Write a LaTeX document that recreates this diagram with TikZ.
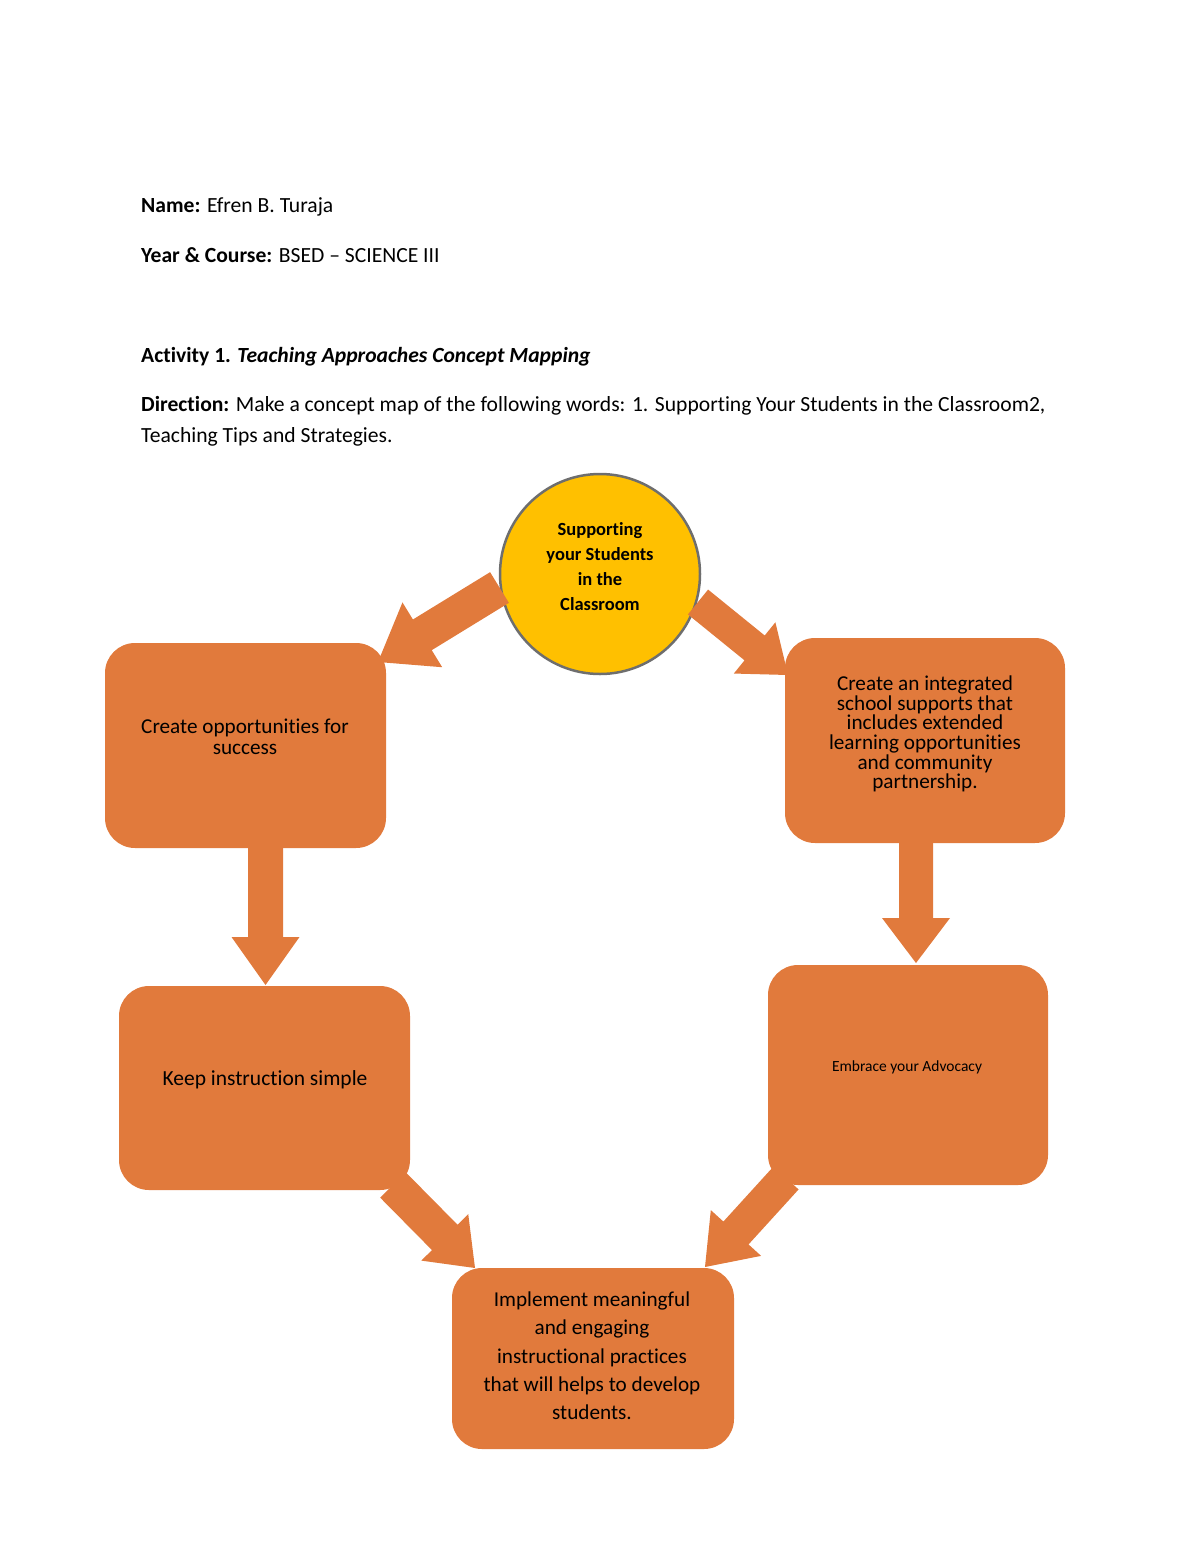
\documentclass[tikz,border=0pt]{standalone}
\usepackage{fontspec}
\setmainfont[Ligatures={NoCommon}]{Carlito}
\usetikzlibrary{calc}
\definecolor{boxorange}{RGB}{225,122,60}
\definecolor{circyellow}{RGB}{255,192,0}
\definecolor{circgray}{RGB}{110,110,110}
\tikzset{
  box/.style={draw=none, fill=boxorange, rounded corners=30pt, inner sep=0pt},
  boxtext/.style={align=center, text=black, inner sep=0pt},
  hdr/.style={anchor=base west, inner sep=0pt, font=\fontsize{21.6}{25}\selectfont},
  arrowfill/.style={fill=boxorange, draw=none}
}
% #1 start, #2 tip, #3 half shaft width, #4 half head width, #5 head length
\newcommand\blockarr[5]{%
  \coordinate (neck) at ($(#2)!#5pt!(#1)$);
  \fill[arrowfill] ($(#1)!#3pt!90:(#2)$) -- ($(neck)!#3pt!90:(#2)$) -- ($(neck)!#4pt!90:(#2)$) -- (#2)
    -- ($(neck)!#4pt!-90:(#2)$) -- ($(neck)!#3pt!-90:(#2)$) -- ($(#1)!#3pt!-90:(#2)$) -- cycle;}
\begin{document}
\begin{tikzpicture}[x=1pt,y=-1pt]
\useasboundingbox (0,0) rectangle (1200,1553);
% header
\node[hdr] (name) at (141,212) {\textbf{Name:} Efren B. Turaja};
\node[hdr] (year) at (141,262) {\textbf{Year \& Course:} BSED – SCIENCE III};
\node[hdr] (act) at (141,362) {\textbf{Activity 1.} \textbf{\textit{Teaching Approaches Concept Mapping}}};
\node[hdr] (dir) at (141,411) {\textbf{Direction:} Make a concept map of the following words: 1. Supporting Your Students in the Classroom2,};
\node[hdr] (dir2) at (141,442) {Teaching Tips and Strategies.};
% central circle
\node[circle, draw=circgray, line width=2.5pt, fill=circyellow, minimum size=200pt, inner sep=0pt] (circ) at (600,574) {};
\node[boxtext, font=\bfseries\fontsize{18.5}{25}\selectfont] (circt) at (600,567) {Supporting\\your Students\\in the\\Classroom};
% boxes
\node[box, minimum width=281pt, minimum height=205pt] (b1) at (245.5,745.5) {};
\node[box, minimum width=280pt, minimum height=205pt] (b2) at (925,740.5) {};
\node[box, minimum width=291pt, minimum height=204pt] (b3) at (264.5,1088) {};
\node[box, minimum width=280pt, minimum height=220pt] (b4) at (908,1075) {};
\node[box, minimum width=282pt, minimum height=181pt] (b5) at (593,1358.5) {};
% box texts
\node[boxtext, font=\fontsize{21.2}{21}\selectfont] (b1t) at (245,737) {Create opportunities for\\success};
\node[boxtext, font=\fontsize{21.2}{19.6}\selectfont] (b2t) at (925,734) {Create an integrated\\school supports that\\includes extended\\learning opportunities\\and community\\partnership.};
\node[boxtext, font=\fontsize{21.5}{24}\selectfont] (b3t) at (265,1080) {Keep instruction simple};
\node[boxtext, font=\fontsize{15.5}{17}\selectfont] (b4t) at (907,1067) {Embrace your Advocacy};
\node[boxtext, font=\fontsize{21.2}{28.3}\selectfont] (b5t) at (592,1356) {Implement meaningful\\and engaging\\instructional practices\\that will helps to develop\\students.};
% arrow end points
\coordinate (a1s) at (499.5,587.5); \coordinate (a1e) at (378,662);
\coordinate (a2s) at (698,602);     \coordinate (a2e) at (788,675);
\coordinate (a3s) at (265.5,840);   \coordinate (a3e) at (265.5,985);
\coordinate (a4s) at (916,835);     \coordinate (a4e) at (916,963);
\coordinate (a5s) at (393,1185);    \coordinate (a5e) at (475,1268);
\coordinate (a6s) at (786,1178);    \coordinate (a6e) at (705,1267);
\blockarr{a1s}{a1e}{18}{38}{52}
\blockarr{a2s}{a2e}{16}{33}{43}
\blockarr{a3s}{a3e}{17.5}{34}{48}
\blockarr{a4s}{a4e}{17}{34}{45}
\blockarr{a5s}{a5e}{18}{33}{43}
\blockarr{a6s}{a6e}{17}{34}{46}
\end{tikzpicture}
\end{document}
